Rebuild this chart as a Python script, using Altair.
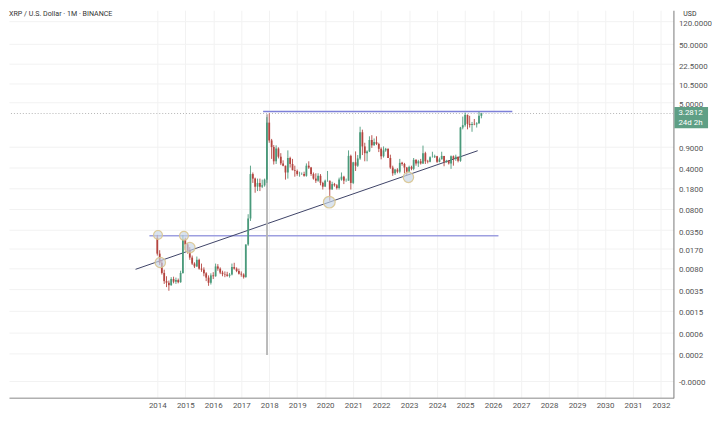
import altair as alt
import pandas as pd

# ---------------- data ----------------
months = pd.date_range("2014-01-01", periods=140, freq="MS").strftime("%Y-%m-%d").tolist()

opens = [
    0.026, 0.014, 0.0098, 0.0066, 0.0048, 0.0045, 0.0041, 0.0052, 0.0047, 0.0050, 0.0046, 0.0066,
    0.024, 0.020, 0.016, 0.012, 0.0095, 0.0085, 0.011, 0.0078, 0.0075, 0.0065, 0.0055, 0.0045,
    0.0060, 0.0058, 0.0085, 0.0078, 0.0067, 0.0063, 0.0062, 0.0059, 0.0062, 0.0083, 0.0078, 0.0071,
    0.0064, 0.0062, 0.0056, 0.020, 0.055, 0.31, 0.26, 0.19, 0.22, 0.19, 0.20, 0.25,
    2.30, 1.15, 0.89, 0.51, 0.84, 0.61, 0.47, 0.43, 0.33, 0.58, 0.46, 0.36,
    0.35, 0.31, 0.31, 0.31, 0.29, 0.43, 0.40, 0.31, 0.26, 0.24, 0.29, 0.22,
    0.19, 0.24, 0.24, 0.17, 0.21, 0.20, 0.18, 0.25, 0.28, 0.24, 0.24, 0.63,
    0.22, 0.49, 0.43, 0.57, 1.58, 0.91, 0.70, 0.75, 1.17, 0.95, 1.08, 1.00,
    0.83, 0.62, 0.78, 0.83, 0.58, 0.40, 0.32, 0.37, 0.34, 0.48, 0.46, 0.40,
    0.34, 0.41, 0.38, 0.54, 0.47, 0.51, 0.47, 0.70, 0.51, 0.50, 0.60, 0.60,
    0.62, 0.50, 0.55, 0.63, 0.50, 0.52, 0.47, 0.62, 0.56, 0.61, 0.52, 1.90,
    2.08, 3.11, 2.19, 2.09, 2.19, 2.15, 2.24, 3.00,
]
highs = [
    0.029, 0.016, 0.011, 0.0075, 0.0058, 0.0049, 0.0056, 0.0057, 0.0055, 0.0053, 0.0072, 0.029,
    0.026, 0.021, 0.018, 0.013, 0.0100, 0.0125, 0.0115, 0.0095, 0.0082, 0.0068, 0.0060, 0.0065,
    0.0068, 0.0095, 0.0093, 0.0082, 0.0072, 0.0070, 0.0069, 0.0066, 0.0095, 0.0098, 0.0082, 0.0078,
    0.0070, 0.0065, 0.020, 0.065, 0.43, 0.33, 0.27, 0.26, 0.26, 0.25, 0.26, 2.85,
    3.30, 1.22, 0.96, 0.95, 0.88, 0.70, 0.53, 0.43, 0.78, 0.61, 0.56, 0.43,
    0.37, 0.34, 0.33, 0.34, 0.47, 0.51, 0.41, 0.33, 0.32, 0.32, 0.31, 0.23,
    0.25, 0.35, 0.24, 0.23, 0.22, 0.21, 0.27, 0.33, 0.29, 0.26, 0.78, 0.66,
    0.50, 0.75, 0.65, 1.96, 1.75, 1.05, 0.78, 1.35, 1.41, 1.24, 1.35, 1.05,
    0.88, 0.91, 0.86, 0.84, 0.66, 0.43, 0.38, 0.39, 0.56, 0.50, 0.48, 0.41,
    0.43, 0.43, 0.58, 0.55, 0.54, 0.56, 0.94, 0.74, 0.54, 0.62, 0.74, 0.66,
    0.63, 0.59, 0.74, 0.63, 0.54, 0.53, 0.64, 0.64, 0.66, 0.61, 1.95, 2.91,
    3.40, 3.15, 3.00, 2.36, 2.65, 2.34, 3.50, 3.36,
]
lows = [
    0.013, 0.009, 0.0062, 0.0043, 0.0038, 0.0033, 0.0040, 0.0044, 0.0043, 0.0044, 0.0045, 0.0064,
    0.016, 0.014, 0.011, 0.0090, 0.0080, 0.0083, 0.0075, 0.0069, 0.0058, 0.0048, 0.0040, 0.0042,
    0.0052, 0.0057, 0.0072, 0.0063, 0.0058, 0.0056, 0.0057, 0.0055, 0.0060, 0.0075, 0.0068, 0.0062,
    0.0057, 0.0053, 0.0055, 0.019, 0.050, 0.22, 0.15, 0.16, 0.16, 0.18, 0.19, 0.22,
    1.05, 0.56, 0.45, 0.46, 0.57, 0.44, 0.42, 0.25, 0.26, 0.40, 0.36, 0.28,
    0.29, 0.28, 0.30, 0.28, 0.28, 0.38, 0.29, 0.25, 0.22, 0.23, 0.20, 0.17,
    0.19, 0.23, 0.11, 0.17, 0.19, 0.17, 0.17, 0.24, 0.21, 0.23, 0.24, 0.17,
    0.21, 0.35, 0.41, 0.54, 0.65, 0.51, 0.51, 0.73, 0.86, 0.94, 0.96, 0.73,
    0.55, 0.59, 0.74, 0.58, 0.38, 0.29, 0.30, 0.32, 0.32, 0.43, 0.32, 0.30,
    0.34, 0.36, 0.36, 0.43, 0.41, 0.45, 0.46, 0.46, 0.47, 0.49, 0.59, 0.58,
    0.48, 0.49, 0.55, 0.42, 0.48, 0.45, 0.38, 0.43, 0.52, 0.49, 0.50, 1.77,
    1.96, 1.77, 1.90, 1.61, 2.08, 1.90, 2.19, 2.72,
]
closes = [
    0.014, 0.0098, 0.0066, 0.0048, 0.0045, 0.0041, 0.0052, 0.0047, 0.0050, 0.0046, 0.0066, 0.024,
    0.020, 0.016, 0.012, 0.0095, 0.0085, 0.011, 0.0078, 0.0075, 0.0065, 0.0055, 0.0045, 0.0060,
    0.0058, 0.0085, 0.0078, 0.0067, 0.0063, 0.0062, 0.0059, 0.0062, 0.0083, 0.0078, 0.0071, 0.0064,
    0.0062, 0.0056, 0.020, 0.055, 0.31, 0.26, 0.19, 0.22, 0.19, 0.20, 0.25, 2.30,
    1.15, 0.89, 0.51, 0.84, 0.61, 0.47, 0.43, 0.33, 0.58, 0.46, 0.36, 0.35,
    0.31, 0.31, 0.31, 0.29, 0.43, 0.40, 0.31, 0.26, 0.24, 0.29, 0.22, 0.19,
    0.24, 0.24, 0.17, 0.21, 0.20, 0.18, 0.25, 0.28, 0.24, 0.24, 0.63, 0.22,
    0.49, 0.43, 0.57, 1.58, 0.91, 0.70, 0.75, 1.17, 0.95, 1.08, 1.00, 0.83,
    0.62, 0.78, 0.83, 0.58, 0.40, 0.32, 0.37, 0.34, 0.48, 0.46, 0.40, 0.34,
    0.41, 0.38, 0.54, 0.47, 0.51, 0.47, 0.70, 0.51, 0.50, 0.60, 0.60, 0.62,
    0.50, 0.55, 0.63, 0.50, 0.52, 0.47, 0.62, 0.56, 0.61, 0.52, 1.90, 2.08,
    3.11, 2.19, 2.09, 2.19, 2.15, 2.24, 3.00, 3.2812,
]

last_price = 3.2812
last_price_text = "3.2812"
countdown_text = "24d 2h"

# drawn annotations
top_line_dates = ["2017-10-13", "2026-09-09"]
top_line_prices = [3.56, 3.56]
low_line_dates = ["2013-09-20", "2026-03-12"]
low_line_prices = [0.0282, 0.0282]
trend_dates = ["2013-03-23", "2025-06-14"]
trend_prices = [0.0076, 0.77]
vline_date = ["2017-12-03"]
vline_top = [3.2]
vline_bottom = [0.00027]

circle_dates = ["2014-01-10", "2014-02-09", "2014-12-15", "2015-03-02", "2020-02-24", "2022-12-23"]
circle_prices = [0.029, 0.0099, 0.028, 0.0177, 0.104, 0.273]
circle_kind = ["small", "medium", "small", "medium", "large", "medium"]

years = list(range(2014, 2033))
ytick_values = [120, 50, 22.5, 10.5, 5, 0.9, 0.4, 0.18, 0.08, 0.035, 0.017, 0.008,
                0.0035, 0.0015, 0.00065, 0.00029, 0.000098]
ytick_labels = ["120.0000", "50.0000", "22.5000", "10.5000", "5.0000", "0.9000",
                "0.4000", "0.1800", "0.0800", "0.0350", "0.0170", "0.0080", "0.0035",
                "0.0015", "0.0006", "0.0002", "-0.0000"]

title_text = "XRP / U.S. Dollar \u00b7 1M \u00b7 BINANCE"

# ---------------- chart ----------------
W, H = 672, 392
UP, DOWN = "#4a9a7b", "#b4443f"
FONT = "Roboto"

candles = pd.DataFrame(dict(date=months, open=opens, high=highs, low=lows, close=closes))
candles["dir"] = ["up" if c >= o else "down" for o, c in zip(opens, closes)]

xscale = alt.Scale(type="utc",
                   domain=[alt.DateTime(year=2008, month=9, date=13, utc=True),
                           alt.DateTime(year=2032, month=6, date=12, utc=True)],
                   nice=False)
yscale = alt.Scale(type="log", domain=[5.09e-5, 182.8], nice=False)

vals_js = "[" + ",".join(repr(v) for v in ytick_values) + "]"
labs_js = "[" + ",".join("'" + s + "'" for s in ytick_labels) + "]"

x_axis = alt.Axis(values=[alt.DateTime(year=y, month=1, date=1, utc=True) for y in years],
                  format="%Y", formatType="utc", title=None, ticks=False, grid=True,
                  gridColor="#f2f2f2", gridWidth=1, domainColor="#b0b0b0", domainWidth=1.5,
                  labelFontSize=8, labelColor="#555555", labelPadding=4, labelFont=FONT,
                  labelFlush=False, labelOverlap=False)
y_axis = alt.Axis(orient="right", values=ytick_values,
                  labelExpr=labs_js + "[indexof(" + vals_js + ", datum.value)]",
                  title=None, ticks=False, grid=True, gridColor="#f2f2f2", gridWidth=1,
                  domainColor="#777777", domainWidth=1, labelFontSize=8,
                  labelColor="#555555", labelPadding=5, labelFont=FONT, labelOffset=2,
                  labelOverlap=False, labelFlush=False)


def X(field):
    return alt.X(field, scale=xscale, axis=x_axis, title=None)


def Y(field):
    return alt.Y(field, scale=yscale, axis=y_axis, title=None)


color = alt.Color("dir:N", scale=alt.Scale(domain=["up", "down"], range=[UP, DOWN]), legend=None)

base = alt.Chart(candles).encode(x=X("date:T"))

wicks = base.mark_rule(strokeWidth=0.9).encode(y=Y("low:Q"), y2="high:Q", color=color)
bodies = base.mark_rule(strokeWidth=1.8).encode(y=Y("open:Q"), y2="close:Q", color=color)

price_line = alt.Chart(pd.DataFrame({"p": [last_price]})).mark_rule(
    color="#b5b5b5", strokeWidth=1, strokeDash=[1, 2]).encode(y=Y("p:Q"))


def seg(dates, prices, col, width):
    df = pd.DataFrame({"d": dates, "p": prices})
    return alt.Chart(df).mark_line(color=col, strokeWidth=width).encode(
        x=X("d:T"), y=Y("p:Q"))


top_line = seg(top_line_dates, top_line_prices, "#7d80d8", 1.5)
low_line = seg(low_line_dates, low_line_prices, "#9d9fe0", 1.5)
trend_line = seg(trend_dates, trend_prices, "#3d4266", 1)

vline = alt.Chart(pd.DataFrame({"d": vline_date, "t": vline_top, "b": vline_bottom})).mark_rule(
    color="#b3b3b3", strokeWidth=1.8).encode(x=X("d:T"), y=Y("t:Q"), y2="b:Q")

circles = alt.Chart(pd.DataFrame({"d": circle_dates, "p": circle_prices, "k": circle_kind})).mark_point(
    shape="circle", filled=True, fill="#c6d6e6", fillOpacity=0.65, stroke="#d9c58f",
    strokeWidth=1.2, strokeOpacity=0.9).encode(
    x=X("d:T"), y=Y("p:Q"),
    size=alt.Size("k:N", scale=alt.Scale(domain=["small", "medium", "large"], range=[80, 140, 285]),
                  legend=None))

tag_df = pd.DataFrame({"p": [last_price], "t": [last_price_text], "c": [countdown_text]})
tag_box = alt.Chart(tag_df).mark_point(
    shape="M0,-0.38H2V0.88H0Z", size=1156, filled=True, fill="#5f9f85", opacity=1,
    strokeWidth=0).encode(x=alt.value(W + 1), y=Y("p:Q"))
tag_price = alt.Chart(tag_df).mark_text(
    align="left", baseline="middle", fontSize=8, color="white", font=FONT).encode(
    x=alt.value(W + 5), y=Y("p:Q"), text="t:N")
tag_count = alt.Chart(tag_df).mark_text(
    align="left", baseline="middle", fontSize=8, color="white", font=FONT, dy=10).encode(
    x=alt.value(W + 5), y=Y("p:Q"), text="c:N")

title = alt.Chart(pd.DataFrame({"t": [title_text]})).mark_text(
    align="left", baseline="top", fontSize=7.2, color="#333333", font=FONT).encode(
    x=alt.value(0), y=alt.value(0), text="t:N")
usd = alt.Chart(pd.DataFrame({"t": ["USD"]})).mark_text(
    align="left", baseline="top", fontSize=7, color="#333333", font=FONT).encode(
    x=alt.value(W + 10), y=alt.value(0), text="t:N")

chart = alt.layer(
    price_line, low_line, top_line, trend_line, vline, wicks, bodies, circles,
    tag_box, tag_price, tag_count, title, usd
).properties(width=W, height=H, padding=0, background="white").configure_view(stroke=None)

chart.save("out.html", embed_options={"renderer": "svg", "actions": False})
